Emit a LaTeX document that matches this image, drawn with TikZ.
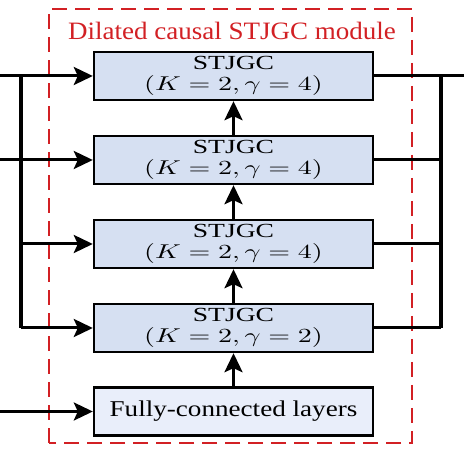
\documentclass[tikz,border=0pt]{standalone}
\usepackage{fontspec}
\setmainfont{Liberation Serif}
\usepackage{graphicx}
\usepackage{tkz-euclide}
\usetikzlibrary{arrows.meta}
\definecolor{blkfill}{RGB}{214,224,242}
\definecolor{fcfill}{RGB}{233,238,250}
\definecolor{modred}{RGB}{210,32,36}
\newcommand\stjlabel[1]{\scalebox{1.38}[1]{STJGC}\\\scalebox{1.4}[1]{$(K=2,\gamma=#1)$}}
\tikzset{>={Stealth[length=9.5pt,width=9pt,inset=2pt]}}
\tikzset{blk/.style={draw, line width=1.2pt, fill=blkfill, minimum width=139.5pt,
    minimum height=24pt, inner sep=0pt, align=center,
    font=\fontsize{10}{10.2}\selectfont},
  wire/.style={line width=1.5pt}}

\begin{document}
\begin{tikzpicture}[x=0.5pt,y=0.5pt]
\useasboundingbox (0,0) rectangle (464,464);
\draw[modred, line width=1.2pt, dash pattern=on 7.5pt off 4pt] (49,21) rectangle (412,455);
\node[modred, font=\fontsize{12.5}{14}\selectfont] (T) at (232,433)
  {\scalebox{1.08}[1]{Dilated causal STJGC module}};
\node[blk] (s4) at (233.5,388) {\stjlabel{4}};
\node[blk] (s3) at (233.5,304) {\stjlabel{4}};
\node[blk] (s2) at (233.5,220) {\stjlabel{4}};
\node[blk] (s1) at (233.5,136) {\stjlabel{2}};
\node[blk, fill=fcfill, font=\fontsize{11.3}{13}\selectfont] (fc) at (233.5,52.5)
  {\scalebox{1.2}[1]{Fully-connected layers}};
\tkzDefPoints{0/388/A, 0/304/B, 0/52.5/C, 21/388/L, 21/220/M, 21/136/N,
  441/388/P, 441/136/Q, 464/388/R}
% inputs
\draw[wire,->] (A) -- (s4.west);
\draw[wire,->] (B) -- (s3.west);
\draw[wire,->] (M) -- (s2.west);
\draw[wire,->] (N) -- (s1.west);
\draw[wire,->] (C) -- (fc.west);
\draw[wire, line width=1.8pt] (L) -- (N);
% stack
\draw[wire,->] (fc.north) -- (s1.south);
\draw[wire,->] (s1.north) -- (s2.south);
\draw[wire,->] (s2.north) -- (s3.south);
\draw[wire,->] (s3.north) -- (s4.south);
% skip outputs
\draw[wire] (s4.east) -- (R);
\draw[wire] (s3.east) -| (P);
\draw[wire] (s2.east) -| (P);
\draw[wire] (s1.east) -- (Q);
\draw[wire, line width=1.8pt] (P) -- (Q);
\end{tikzpicture}
\end{document}
